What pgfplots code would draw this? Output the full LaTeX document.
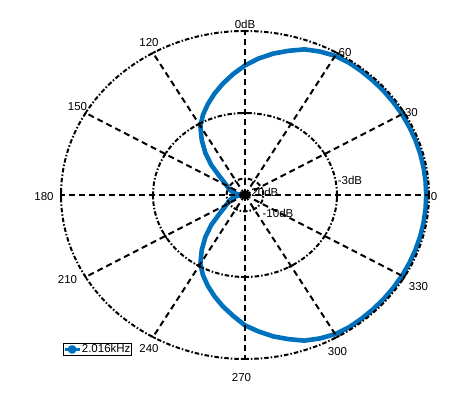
\documentclass[border=0pt]{standalone}
\usepackage{fontspec}
\setmainfont{Liberation Sans}
\usepackage{pgfplots}
\pgfplotsset{compat=1.18}
\definecolor{mblue}{RGB}{0,114,189}

\tikzset{
  ring/.style={black, line width=2pt, dash pattern=on 4.5pt off 2pt on 1.5pt off 2pt},
  spoke/.style={black, line width=2pt, dash pattern=on 6pt off 4pt},
}

\begin{document}
\begin{tikzpicture}
\begin{axis}[
    x=184pt, y=164pt,
    xmin=-1.3315, xmax=1.2446, ymin=-1.2683, ymax=1.1890,
    hide axis, clip=false,
    font=\fontsize{11.5}{13}\selectfont,
    legend style={at={(axis cs:-0.9908,-0.9006)}, anchor=north west,
        draw=black, line width=1.4pt, inner xsep=0.5pt, inner ysep=0pt,
        font=\fontsize{11.5}{13}\selectfont,
        nodes={inner sep=0.6pt, text height=8.6pt, text depth=2.2pt}},
    legend image code/.code={
        \draw[mblue, line width=2.4pt] (0pt,0pt) -- (15pt,0pt);
        \fill[mblue] (7pt,0pt) circle (2pt);
    },
]
% measured pattern, angle (deg) / normalised radius
\addplot[mblue, line width=4.6pt, line join=round, data cs=polar] coordinates {
    (0,0.985) (5,0.985) (10,0.985) (15,0.985) (20,0.985) (25,0.985)
    (30,0.985) (35,0.985) (40,0.985) (45,0.985) (50,0.985) (55,0.985)
    (60,0.98) (65,0.965) (70,0.945) (75,0.91) (80,0.875) (85,0.835)
    (90,0.79) (95,0.74) (100,0.69) (105,0.64) (110,0.59) (115,0.54)
    (120,0.485) (125,0.41) (130,0.335) (135,0.26) (140,0.185) (145,0.14)
    (150,0.115) (155,0.10) (160,0.085) (165,0.07) (170,0.05) (175,0.035)
    (180,0.025) (185,0.035) (190,0.05) (195,0.07) (200,0.085) (205,0.10)
    (210,0.115) (215,0.14) (220,0.185) (225,0.26) (230,0.335) (235,0.41)
    (240,0.485) (245,0.54) (250,0.59) (255,0.64) (260,0.69) (265,0.74)
    (270,0.795) (275,0.835) (280,0.875) (285,0.91) (290,0.945) (295,0.965)
    (300,0.98) (305,0.985) (310,0.985) (315,0.985) (320,0.985) (325,0.985)
    (330,0.985) (335,0.985) (340,0.985) (345,0.985) (350,0.985) (355,0.985)
    (360,0.985)
};
\addlegendentry{2.016kHz}

% grid rings: 0, -3, -10, -20 dB
\draw[ring] (axis cs:0,0) ellipse [x radius=184pt, y radius=164pt];
\draw[ring] (axis cs:0,0) ellipse [x radius=92pt, y radius=82pt];
\draw[ring] (axis cs:0,0) ellipse [x radius=18.4pt, y radius=16.4pt];
\draw[black, line width=1.2pt] (axis cs:0,0) ellipse [x radius=3pt, y radius=3pt];

\pgfplotsinvokeforeach{0,30,...,330}{
    \draw[spoke] (axis cs:0,0) -- (axis cs:{cos(#1)},{sin(#1)});
    \draw[black, line width=1.6pt] (axis cs:{cos(#1)},{sin(#1)})
        ++({-3pt*sin(#1)},{3pt*cos(#1)}) -- ++({6pt*sin(#1)},{-6pt*cos(#1)});
    \draw[black, line width=1.6pt] (axis cs:{0.5*cos(#1)},{0.5*sin(#1)})
        ++({-3pt*sin(#1)},{3pt*cos(#1)}) -- ++({6pt*sin(#1)},{-6pt*cos(#1)});
}

\node at (axis cs:0,1.0427) {0dB};
\node at (axis cs:0.5707,0.0884) {-3dB};
\node at (axis cs:0.1793,-0.1098) {-10dB};
\node at (axis cs:0.0978,0.0183) {-20dB};

\node at (axis cs:1.0272,-0.0091) {0};
\node at (axis cs:0.9049,0.5) {30};
\node at (axis cs:0.5435,0.8689) {60};
\node at (axis cs:-0.5217,0.9299) {120};
\node at (axis cs:-0.9103,0.5366) {150};
\node at (axis cs:-1.0924,-0.0122) {180};
\node at (axis cs:-0.9647,-0.5152) {210};
\node at (axis cs:-0.5217,-0.939) {240};
\node at (axis cs:-0.019,-1.1128) {270};
\node at (axis cs:0.5027,-0.9573) {300};
\node at (axis cs:0.9429,-0.561) {330};

\path (rel axis cs:0,0) rectangle (rel axis cs:1,1);
\end{axis}
\end{tikzpicture}
\end{document}
